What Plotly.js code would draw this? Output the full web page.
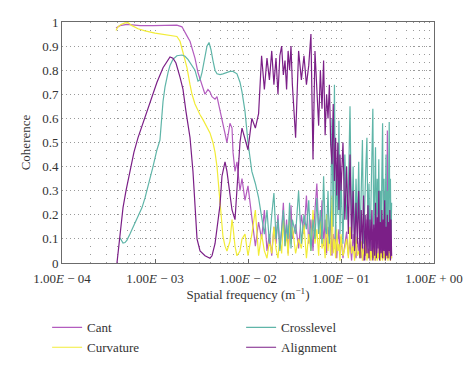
<!DOCTYPE html>
<html>
<head>
<meta charset="utf-8">
<script src="https://cdn.plot.ly/plotly-3.0.1.min.js"></script>
<style>html,body{margin:0;padding:0;background:#fff;}#chart{width:474px;height:367px;}</style>
</head>
<body>
<div id="chart"></div>
<script>
// ---- data (spatial frequency in 1/m, coherence) ----
var seriesNames = ["Cant", "Curvature", "Crosslevel", "Alignment"];
var xTickVals = [1e-4, 1e-3, 1e-2, 1e-1, 1];
var xTickText = ["1.00<i>E</i> − 04", "1.00<i>E</i> − 03", "1.00<i>E</i> − 02", "1.00<i>E</i> − 01", "1.00<i>E</i> + 00"];
var yTickVals = [0, 0.1, 0.2, 0.3, 0.4, 0.5, 0.6, 0.7, 0.8, 0.9, 1];
var yTickText = ["0", "0.1", "0.2", "0.3", "0.4", "0.5", "0.6", "0.7", "0.8", "0.9", "1"];

var cantFreqLow = [3.81e-4, 4.2e-4, 5.0e-4, 6.9e-4, 9.52e-4, 1.28e-3, 1.52e-3, 1.72e-3, 1.95e-3, 2.1e-3,
  2.26e-3, 2.38e-3, 2.56e-3, 2.69e-3, 2.9e-3, 3.2e-3, 3.45e-3, 3.71e-3, 3.9e-3, 4.1e-3,
  4.42e-3, 4.64e-3, 5.0e-3, 5.38e-3, 5.66e-3, 5.94e-3, 6.4e-3, 6.73e-3, 6.9e-3, 7.25e-3,
  7.61e-3, 8.2e-3, 8.62e-3, 9.28e-3];
var cantCohLow = [0.975, 0.985, 0.99, 0.985, 0.985, 0.985, 0.988, 0.987, 0.98, 0.96,
  0.935, 0.92, 0.88, 0.85, 0.79, 0.735, 0.70, 0.72, 0.71, 0.69,
  0.68, 0.69, 0.63, 0.58, 0.54, 0.50, 0.58, 0.56, 0.46, 0.38,
  0.42, 0.30, 0.35, 0.26];

var curvFreqLow = [3.81e-4, 4.0e-4, 4.31e-4, 4.76e-4, 5.13e-4, 5.66e-4, 6.57e-4, 7.81e-4, 1.0e-3, 1.38e-3,
  1.72e-3, 1.86e-3, 1.95e-3, 2.1e-3, 2.21e-3, 2.38e-3, 2.5e-3, 2.69e-3, 2.83e-3, 3.05e-3,
  3.28e-3, 3.45e-3, 3.71e-3, 3.9e-3, 4.2e-3, 4.42e-3, 4.64e-3, 4.76e-3, 5.0e-3, 5.25e-3,
  5.38e-3, 5.66e-3, 5.94e-3, 6.4e-3, 6.73e-3, 6.9e-3, 7.25e-3, 7.61e-3, 8.2e-3, 8.62e-3,
  9.28e-3];
var curvCohLow = [0.965, 0.98, 0.99, 0.996, 0.997, 0.985, 0.972, 0.963, 0.954, 0.946,
  0.94, 0.92, 0.89, 0.84, 0.81, 0.74, 0.70, 0.66, 0.64, 0.615,
  0.595, 0.58, 0.56, 0.54, 0.50, 0.46, 0.40, 0.35, 0.24, 0.16,
  0.11, 0.07, 0.05, 0.09, 0.18, 0.15, 0.07, 0.03, 0.05, 0.10,
  0.12];

var crossFreqLow = [4.2e-4, 4.42e-4, 4.53e-4, 4.76e-4, 5.0e-4, 5.38e-4, 6.09e-4, 6.9e-4, 7.25e-4, 7.81e-4,
  8.41e-4, 8.83e-4, 9.52e-4, 1.05e-3, 1.13e-3, 1.22e-3, 1.28e-3, 1.38e-3, 1.45e-3, 1.56e-3,
  1.72e-3, 1.95e-3, 2.1e-3, 2.26e-3, 2.5e-3, 2.69e-3, 2.9e-3, 3.05e-3, 3.2e-3, 3.45e-3,
  3.62e-3, 3.81e-3, 4.0e-3, 4.2e-3, 4.42e-3, 4.64e-3, 5.0e-3, 5.38e-3, 5.94e-3, 6.4e-3,
  6.9e-3, 7.61e-3, 8.2e-3, 8.62e-3, 9.28e-3, 9.75e-3];
var crossCohLow = [0.105, 0.09, 0.083, 0.085, 0.095, 0.12, 0.166, 0.21, 0.23, 0.27,
  0.315, 0.345, 0.40, 0.47, 0.51, 0.67, 0.73, 0.79, 0.82, 0.845,
  0.86, 0.863, 0.858, 0.845, 0.82, 0.80, 0.755, 0.76, 0.79, 0.86,
  0.90, 0.915, 0.885, 0.84, 0.80, 0.785, 0.782, 0.785, 0.79, 0.795,
  0.795, 0.785, 0.75, 0.71, 0.63, 0.55];

var alignFreqLow = [3.9e-4, 4.1e-4, 4.31e-4, 4.53e-4, 4.88e-4, 5.38e-4, 5.94e-4, 6.57e-4, 7.43e-4, 8.83e-4,
  1.05e-3, 1.22e-3, 1.35e-3, 1.45e-3, 1.56e-3, 1.68e-3, 1.86e-3, 2.0e-3, 2.15e-3, 2.26e-3,
  2.38e-3, 2.56e-3, 2.69e-3, 2.83e-3, 3.05e-3, 3.45e-3, 3.9e-3, 4.1e-3, 4.42e-3, 4.76e-3,
  5.0e-3, 5.25e-3, 5.66e-3, 5.94e-3, 6.4e-3, 6.73e-3, 7.25e-3, 7.61e-3, 8.2e-3, 8.62e-3,
  9.28e-3];
var alignCohLow = [0.0, 0.08, 0.16, 0.23, 0.30, 0.38, 0.46, 0.52, 0.58, 0.66,
  0.75, 0.81, 0.84, 0.855, 0.85, 0.83, 0.77, 0.72, 0.63, 0.57,
  0.52, 0.38, 0.22, 0.10, 0.05, 0.03, 0.02, 0.03, 0.08, 0.18,
  0.24, 0.36, 0.42, 0.38, 0.28, 0.22, 0.18, 0.30, 0.50, 0.56,
  0.52];

var freqHigh = [0.010, 0.011, 0.012, 0.013, 0.014, 0.015, 0.016, 0.017, 0.018, 0.019,
  0.020, 0.021, 0.022, 0.023, 0.024, 0.025, 0.026, 0.027, 0.028, 0.029,
  0.030, 0.0325, 0.035, 0.0375, 0.040, 0.0425, 0.045, 0.0475, 0.050, 0.0525,
  0.055, 0.0575, 0.060, 0.0625, 0.065, 0.0675, 0.070, 0.0725, 0.075, 0.0775,
  0.080, 0.0825, 0.085, 0.0875, 0.090, 0.0925, 0.095, 0.0975, 0.100, 0.105,
  0.110, 0.115, 0.120, 0.125, 0.130, 0.135, 0.140, 0.145, 0.150, 0.155,
  0.160, 0.165, 0.170, 0.175, 0.180, 0.185, 0.190, 0.195, 0.200, 0.205,
  0.210, 0.215, 0.220, 0.225, 0.230, 0.235, 0.240, 0.245, 0.250, 0.255,
  0.260, 0.265, 0.270, 0.275, 0.280, 0.285, 0.290, 0.295, 0.300, 0.305,
  0.310, 0.315, 0.320, 0.325, 0.330, 0.335, 0.340, 0.345, 0.350];

var cantHigh = [0.32, 0.18, 0.07, 0.17, 0.10, 0.22, 0.05, 0.12, 0.03, 0.15,
  0.08, 0.20, 0.06, 0.14, 0.25, 0.09, 0.18, 0.04, 0.12, 0.24,
  0.10, 0.16, 0.06, 0.20, 0.12, 0.28, 0.08, 0.18, 0.05, 0.22,
  0.33, 0.14, 0.10, 0.26, 0.07, 0.18, 0.04, 0.15, 0.09, 0.20,
  0.03, 0.12, 0.06, 0.16, 0.02, 0.10, 0.14, 0.04, 0.11, 0.02,
  0.08, 0.13, 0.03, 0.09, 0.01, 0.12, 0.05, 0.02, 0.10, 0.04,
  0.15, 0.02, 0.07, 0.01, 0.11, 0.03, 0.18, 0.02, 0.06, 0.01,
  0.09, 0.03, 0.14, 0.02, 0.05, 0.01, 0.12, 0.03, 0.22, 0.02,
  0.08, 0.01, 0.10, 0.04, 0.16, 0.02, 0.06, 0.30, 0.03, 0.12,
  0.02, 0.55, 0.05, 0.14, 0.02, 0.20, 0.04, 0.10, 0.02];

var curvHigh = [0.03, 0.12, 0.22, 0.03, 0.12, 0.05, 0.02, 0.09, 0.04, 0.15,
  0.06, 0.02, 0.10, 0.04, 0.18, 0.07, 0.12, 0.03, 0.20, 0.08,
  0.15, 0.04, 0.10, 0.06, 0.16, 0.02, 0.12, 0.05, 0.22, 0.08,
  0.14, 0.03, 0.18, 0.06, 0.10, 0.02, 0.20, 0.05, 0.12, 0.03,
  0.28, 0.04, 0.10, 0.02, 0.14, 0.05, 0.08, 0.01, 0.12, 0.03,
  0.06, 0.10, 0.02, 0.15, 0.04, 0.07, 0.01, 0.11, 0.03, 0.05,
  0.02, 0.09, 0.01, 0.06, 0.03, 0.12, 0.01, 0.04, 0.02, 0.08,
  0.01, 0.05, 0.02, 0.10, 0.01, 0.03, 0.06, 0.01, 0.04, 0.02,
  0.09, 0.01, 0.03, 0.05, 0.01, 0.07, 0.02, 0.04, 0.01, 0.06,
  0.02, 0.03, 0.01, 0.05, 0.02, 0.04, 0.01, 0.03, 0.02];

var crossHigh = [0.50, 0.38, 0.33, 0.27, 0.20, 0.12, 0.22, 0.08, 0.20, 0.29,
  0.10, 0.18, 0.05, 0.14, 0.22, 0.07, 0.16, 0.10, 0.25, 0.06,
  0.18, 0.12, 0.30, 0.08, 0.20, 0.14, 0.26, 0.05, 0.18, 0.10,
  0.27, 0.12, 0.22, 0.08, 0.36, 0.15, 0.12, 0.30, 0.08, 0.22,
  0.60, 0.15, 0.74, 0.10, 0.40, 0.20, 0.59, 0.12, 0.35, 0.08,
  0.45, 0.18, 0.30, 0.65, 0.12, 0.40, 0.06, 0.35, 0.15, 0.42,
  0.10, 0.30, 0.51, 0.08, 0.28, 0.40, 0.52, 0.12, 0.33, 0.05,
  0.25, 0.45, 0.64, 0.10, 0.30, 0.48, 0.06, 0.35, 0.20, 0.43,
  0.08, 0.30, 0.15, 0.40, 0.58, 0.10, 0.35, 0.05, 0.28, 0.45,
  0.12, 0.30, 0.08, 0.40, 0.585, 0.15, 0.35, 0.06, 0.25];

var alignHigh = [0.47, 0.60, 0.56, 0.62, 0.86, 0.72, 0.85, 0.76, 0.88, 0.74,
  0.85, 0.70, 0.86, 0.90, 0.78, 0.84, 0.72, 0.88, 0.80, 0.90,
  0.74, 0.52, 0.88, 0.76, 0.86, 0.74, 0.82, 0.95, 0.43, 0.88,
  0.70, 0.57, 0.80, 0.64, 0.84, 0.53, 0.70, 0.60, 0.74, 0.49,
  0.41, 0.66, 0.34, 0.52, 0.28, 0.50, 0.22, 0.45, 0.30, 0.50,
  0.18, 0.40, 0.12, 0.45, 0.10, 0.30, 0.05, 0.25, 0.08, 0.30,
  0.02, 0.22, 0.06, 0.28, 0.01, 0.20, 0.04, 0.24, 0.02, 0.18,
  0.05, 0.22, 0.01, 0.16, 0.03, 0.25, 0.02, 0.19, 0.06, 0.30,
  0.01, 0.17, 0.04, 0.22, 0.02, 0.18, 0.05, 0.26, 0.01, 0.15,
  0.03, 0.20, 0.02, 0.17, 0.05, 0.22, 0.01, 0.18, 0.03];

// ---- styling ----
var colors = {Cant: "#b35cbf", Curvature: "#f2ec38", Crosslevel: "#5fb5a8", Alignment: "#7b1f87"};
var ranks = {Cant: 1, Crosslevel: 2, Curvature: 3, Alignment: 4};
var FONT = "Liberation Serif, Times New Roman, serif";

var seriesData = {
  Cant: [cantFreqLow.concat(freqHigh), cantCohLow.concat(cantHigh)],
  Curvature: [curvFreqLow.concat(freqHigh), curvCohLow.concat(curvHigh)],
  Crosslevel: [crossFreqLow.concat(freqHigh), crossCohLow.concat(crossHigh)],
  Alignment: [alignFreqLow.concat(freqHigh), alignCohLow.concat(alignHigh)]
};

var traces = seriesNames.map(function (n) {
  return {
    x: seriesData[n][0], y: seriesData[n][1], name: n, type: "scatter", mode: "lines",
    line: {color: colors[n], width: 1.2}, legendrank: ranks[n], hoverinfo: "skip"
  };
});

// minor (2..9) gridline positions for the log axis
var minorX = [];
for (var d = -4; d < 0; d++) { for (var k = 2; k <= 9; k++) { minorX.push(k * Math.pow(10, d)); } }

var layout = {
  width: 474, height: 367,
  margin: {l: 62, r: 40, t: 22, b: 104, autoexpand: false},
  paper_bgcolor: "#fff", plot_bgcolor: "#fff",
  font: {family: FONT, size: 13, color: "#333"},
  showlegend: true,
  legend: {
    orientation: "h", x: -0.04, xanchor: "left", y: -0.205, yanchor: "top",
    entrywidth: 149, entrywidthmode: "pixels",
    font: {family: FONT, size: 13, color: "#333"},
    bgcolor: "rgba(0,0,0,0)", traceorder: "normal", tracegroupgap: 0
  },
  xaxis: {
    type: "log", range: [-4, 0],
    tickmode: "array", tickvals: xTickVals, ticktext: xTickText,
    ticks: "inside", ticklen: 4, tickcolor: "#666", ticklabelstandoff: 3,
    showline: true, mirror: true, linecolor: "#6b6b6b", linewidth: 1,
    showgrid: true, gridcolor: "#9a9a9a", gridwidth: 1, griddash: "1px,7px",
    minor: {tickmode: "array", tickvals: minorX, ticks: "", showgrid: true, gridcolor: "#9a9a9a", gridwidth: 1, griddash: "1px,7px"},
    zeroline: false,
    tickfont: {family: FONT, size: 13, color: "#333"},
    title: {text: "Spatial frequency (m<sup>−1</sup>)", font: {family: FONT, size: 13, color: "#333"}, standoff: 3}
  },
  yaxis: {
    range: [0, 1], tickmode: "array", tickvals: yTickVals, ticktext: yTickText,
    ticks: "", showline: true, mirror: true, linecolor: "#6b6b6b", linewidth: 1,
    showgrid: true, gridcolor: "#9a9a9a", gridwidth: 1, griddash: "1px,3px",
    zeroline: false,
    tickfont: {family: FONT, size: 13, color: "#333"},
    title: {text: "Coherence", font: {family: FONT, size: 13, color: "#333"}, standoff: 8}
  }
};

Plotly.newPlot("chart", traces, layout, {displayModeBar: false, staticPlot: true});
</script>
</body>
</html>
